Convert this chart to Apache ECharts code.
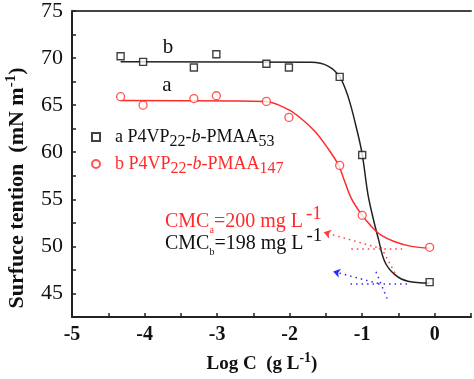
<!DOCTYPE html>
<html>
<head>
<meta charset="utf-8">
<script src="https://cdn.jsdelivr.net/npm/echarts@6/dist/echarts.min.js"></script>
<style>html,body{margin:0;padding:0;background:#fff}#c{width:474px;height:379px}</style>
</head>
<body>
<div id="c"></div>
<script>
// ---- data ----
const logC = [-4.33, -4.02, -3.32, -3.01, -2.32, -2.01, -1.31, -1.00, -0.07];
const tensionA = [70.2, 69.6, 69.0, 70.4, 69.4, 69.0, 68.0, 59.7, 46.2];   // squares (black)
const tensionB = [65.9, 65.0, 65.7, 66.0, 65.4, 63.7, 58.6, 53.3, 49.9];   // circles (red)

const fitAX = [-4.33, -1.70, -1.47, -1.31, -1.19, -1.08, -1.00, -0.92, -0.84, -0.78, -0.69, -0.55, -0.37, -0.07];
const fitAY = [69.6, 69.55, 69.15, 68.0, 65.8, 62.6, 59.8, 55.5, 52.7, 50.9, 48.4, 47.0, 46.3, 46.1];
const fitBX = [-4.33, -2.33, -2.01, -1.83, -1.65, -1.49, -1.33, -1.26, -1.15, -1.01, -0.87, -0.74, -0.55, -0.32, -0.07];
const fitBY = [65.5, 65.4, 64.5, 63.5, 62.2, 60.6, 58.7, 57.3, 55.1, 53.4, 52.1, 51.2, 50.5, 50.0, 49.8];

// dotted CMC construction lines: [[x1,y1],[x2,y2]]
const redGuides = [[[-0.80, 49.9], [-1.53, 51.5]], [[-1.15, 49.76], [-0.45, 49.76]], [[-0.74, 49.9], [-0.53, 46.9]]];
const blueGuides = [[[-0.78, 46.06], [-1.40, 47.34]], [[-1.16, 46.0], [-0.37, 46.0]], [[-0.81, 47.3], [-0.64, 44.15]]];
const arrowFlags = [true, false, false];

const xTicks = {min: -5, max: 0.5, step: 0.5};
const yTicks = {min: 42.5, max: 75, step: 2.5};
const legendLabels = {
  A: '{n|a P4VP}{s|22}{n|-}{i|b}{n|-PMAA}{s|53}',
  B: '{n|b P4VP}{s|22}{n|-}{i|b}{n|-PMAA}{s|147}'
};

const zip = (xs, ys) => xs.map((x, i) => [x, ys[i]]);
const SERIF = 'Liberation Serif';
const RED = '#ff2a2a';

const chart = echarts.init(document.getElementById('c'), null, {renderer: 'canvas'});

function guideData(g) {
  return g.map((seg, i) => ({
    coords: seg,
    symbol: arrowFlags[i] ? ['none', 'arrow'] : ['none', 'none']
  }));
}

chart.setOption({
  animation: false,
  backgroundColor: '#fff',
  grid: {left: 72, top: 10, right: 0, bottom: 62, containLabel: false},
  xAxis: [{
    type: 'value', min: xTicks.min, max: xTicks.max, interval: xTicks.step,
    axisLine: {onZero: false, lineStyle: {color: '#222', width: 2}},
    axisTick: {inside: true, length: 4, lineStyle: {color: '#222', width: 1.5}},
    splitLine: {show: false},
    axisLabel: {
      margin: 8, color: '#111', fontFamily: SERIF, fontSize: 20, fontWeight: 'bold',
      formatter: v => (Math.abs(v - Math.round(v)) < 1e-6 && v <= 0) ? String(Math.round(v)) : ''
    }
  }, {
    type: 'value', position: 'top', min: xTicks.min, max: xTicks.max,
    axisLine: {show: true, lineStyle: {color: '#444', width: 2}},
    axisTick: {show: false}, axisLabel: {show: false}, splitLine: {show: false}
  }],
  yAxis: {
    type: 'value', min: yTicks.min, max: yTicks.max, interval: yTicks.step,
    axisLine: {show: true, onZero: false, lineStyle: {color: '#222', width: 2}},
    axisTick: {show: true, inside: true, length: 4, lineStyle: {color: '#222', width: 1.5}},
    splitLine: {show: false},
    axisLabel: {
      margin: 9, color: '#111', fontFamily: SERIF, fontSize: 22,
      formatter: v => (Math.abs(v % 5) < 1e-6) ? String(v) : ''
    }
  },
  legend: {
    orient: 'vertical', left: 86, top: 123, itemWidth: 8, itemHeight: 8, itemGap: 5,
    data: [{name: 'A', textStyle: {color: '#111'}}, {name: 'B', textStyle: {color: RED}}],
    formatter: name => legendLabels[name],
    textStyle: {
      fontFamily: SERIF, fontSize: 18, padding: [0, 0, 0, 10],
      rich: {
        n: {fontFamily: SERIF, fontSize: 18},
        i: {fontFamily: SERIF, fontSize: 18, fontStyle: 'italic'},
        s: {fontFamily: SERIF, fontSize: 16, padding: [10, 0, 0, 0]}
      }
    }
  },
  series: [
    {name: 'fitA', type: 'line', data: zip(fitAX, fitAY), smooth: 0.35, showSymbol: false,
     lineStyle: {color: '#222', width: 1.5}, z: 2},
    {name: 'fitB', type: 'line', data: zip(fitBX, fitBY), smooth: 0.35, showSymbol: false,
     lineStyle: {color: RED, width: 1.5}, z: 2},
    {name: 'A', type: 'scatter', data: zip(logC, tensionA), symbol: 'rect', symbolSize: 7,
     itemStyle: {color: '#fff', borderColor: '#111', borderWidth: 1.4}, z: 5},
    {name: 'B', type: 'scatter', data: zip(logC, tensionB), symbol: 'circle', symbolSize: 8,
     itemStyle: {color: '#fff', borderColor: RED, borderWidth: 1.3}, z: 5},
    {name: 'gR', type: 'lines', coordinateSystem: 'cartesian2d', data: guideData(redGuides),
     symbolSize: 7, lineStyle: {color: '#ff3b3b', width: 1.5, type: [1.5, 4], opacity: 1}, z: 3},
    {name: 'gB', type: 'lines', coordinateSystem: 'cartesian2d', data: guideData(blueGuides),
     symbolSize: 7, lineStyle: {color: '#2b2bff', width: 1.5, type: [1.5, 4], opacity: 1}, z: 3}
  ],
  graphic: [
    {type: 'text', x: 168, y: 47, style: {text: 'b', font: '21px "Liberation Serif"', fill: '#111', align: 'center', verticalAlign: 'middle'}},
    {type: 'text', x: 167, y: 85, style: {text: 'a', font: '21px "Liberation Serif"', fill: '#111', align: 'center', verticalAlign: 'middle'}},
    {type: 'text', x: 165, y: 222, style: {
      text: '{n|CMC}{s|a}{n|=200 mg L}{p|-1}', fill: RED, align: 'left', verticalAlign: 'middle',
      rich: {n: {fontFamily: SERIF, fontSize: 20, fill: RED}, s: {fontFamily: SERIF, fontSize: 10, fill: RED, padding: [16, 0, 0, 0]}, p: {fontFamily: SERIF, fontSize: 19, fill: RED, padding: [0, 0, 16, 3]}}
    }},
    {type: 'text', x: 165, y: 244, style: {
      text: '{n|CMC}{s|b}{n|=198 mg L}{p|-1}', fill: '#111', align: 'left', verticalAlign: 'middle',
      rich: {n: {fontFamily: SERIF, fontSize: 20, fill: '#111'}, s: {fontFamily: SERIF, fontSize: 10, fill: '#111', padding: [16, 0, 0, 0]}, p: {fontFamily: SERIF, fontSize: 19, fill: '#111', padding: [0, 0, 16, 3]}}
    }},
    {type: 'text', x: 17, y: 188, rotation: Math.PI / 2, style: {
      text: '{b|Surfuce tention  (mN m}{p|-1}{b|)}', align: 'center', verticalAlign: 'middle', fill: '#111',
      rich: {b: {fontFamily: SERIF, fontSize: 22, fontWeight: 'bold', fill: '#111'}, p: {fontFamily: SERIF, fontSize: 15, fontWeight: 'bold', fill: '#111', padding: [0, 0, 12, 0]}}
    }},
    {type: 'text', x: 262, y: 364, style: {
      text: '{b|Log C  (g L}{p|-1}{b|)}', align: 'center', verticalAlign: 'middle', fill: '#111',
      rich: {b: {fontFamily: SERIF, fontSize: 19, fontWeight: 'bold', fill: '#111'}, p: {fontFamily: SERIF, fontSize: 14, fontWeight: 'bold', fill: '#111', padding: [0, 0, 11, 0]}}
    }}
  ]
});
</script>
</body>
</html>
